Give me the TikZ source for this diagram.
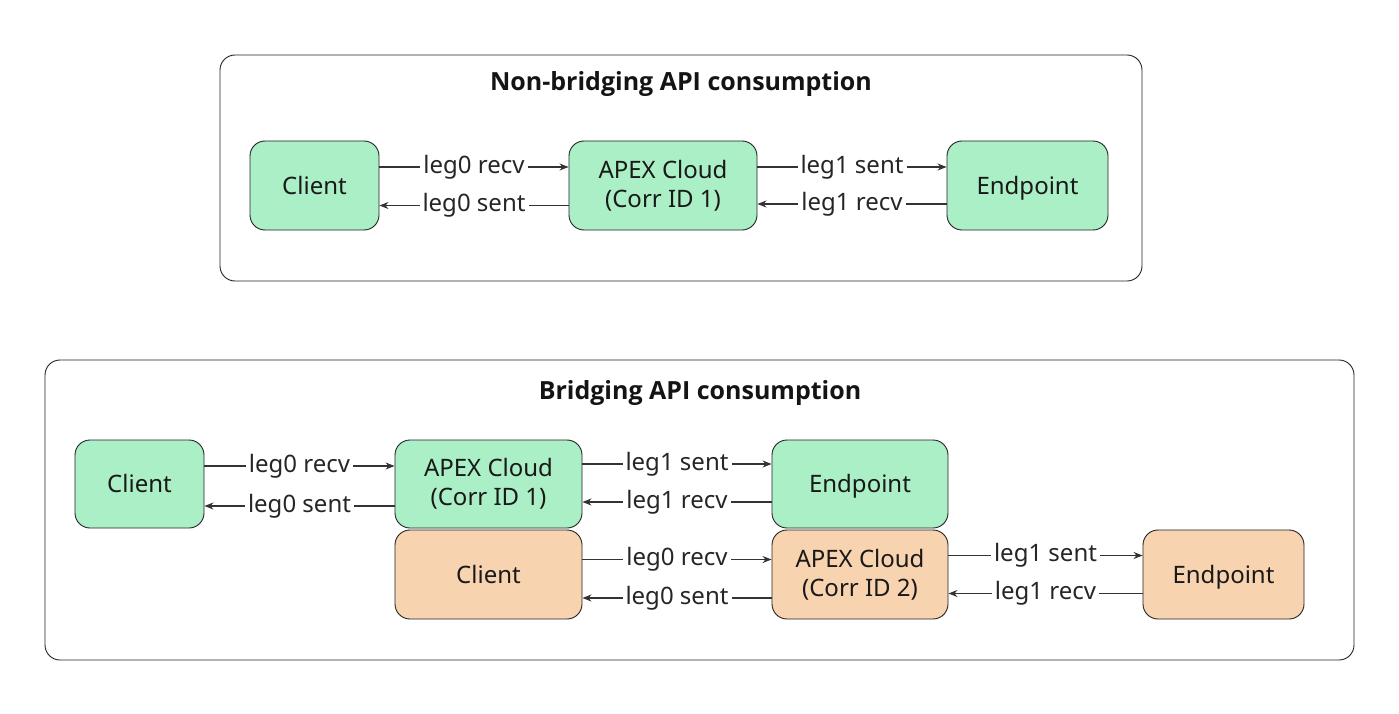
\documentclass[tikz,border=0pt]{standalone}
\usepackage{fontspec}
\setmainfont{Noto Sans}
\newfontfamily\ttlfont{Open Sans}
\usetikzlibrary{arrows.meta}
\definecolor{gfill}{HTML}{ABEFC6}
\definecolor{ofill}{HTML}{F8D3AF}
\definecolor{lncol}{HTML}{333333}
\definecolor{bdcol}{HTML}{222222}
\tikzset{
  frame/.style={draw=bdcol, line width=0.9pt, rounded corners=15pt, fill=white},
  box/.style={draw=bdcol, line width=0.9pt, rounded corners=15pt, align=center, font=\fontsize{24}{29}\selectfont, text=black!90, inner sep=0pt},
  one/.style={text height=20pt, text depth=3pt},
  gbox/.style={box, fill=gfill},
  obox/.style={box, fill=ofill},
  ttl/.style={font=\ttlfont\fontsize{25}{29}\selectfont\bfseries, text=black!92},
  conn/.style={draw=lncol, line width=1.1pt, -{Stealth[length=9pt,width=7pt]}},
  lbl/.style={fill=white, font=\fontsize{24}{28}\selectfont, text=black!85, inner xsep=3pt, inner ysep=1pt}
}
\begin{document}
\begin{tikzpicture}[x=1pt,y=-1pt]
\useasboundingbox (0,0) rectangle (1399,714);
% top frame
\node[frame, minimum width=922pt, minimum height=226pt] (f1) at (681,168) {};
\node[ttl] (t1) at (681,84) {Non-bridging API consumption};
\node[gbox, one, minimum width=129pt, minimum height=89pt] (c1) at (314.5,185.5) {Client};
\node[gbox, minimum width=188pt, minimum height=89pt] (a1) at (663,185.5) {APEX Cloud\\(Corr ID 1)};
\node[gbox, one, minimum width=161pt, minimum height=89pt] (e1) at (1027.5,185.5) {Endpoint};
\draw[conn] ([yshift=18.5pt]c1.east) -- node[lbl]{leg0 recv} ([yshift=18.5pt]a1.west);
\draw[conn] ([yshift=-20pt]a1.west) -- node[lbl]{leg0 sent} ([yshift=-20pt]c1.east);
\draw[conn] ([yshift=18.5pt]a1.east) -- node[lbl]{leg1 sent} ([yshift=18.5pt]e1.west);
\draw[conn] ([yshift=-18.5pt]e1.west) -- node[lbl]{leg1 recv} ([yshift=-18.5pt]a1.east);
% bottom frame
\node[frame, minimum width=1309pt, minimum height=300pt] (f2) at (699.5,510) {};
\node[ttl] (t2) at (700,393) {Bridging API consumption};
\node[gbox, one, minimum width=129pt, minimum height=88pt] (c2) at (139.5,484) {Client};
\node[gbox, minimum width=187pt, minimum height=88pt] (a2) at (488.5,484) {APEX Cloud\\(Corr ID 1)};
\node[gbox, one, minimum width=176pt, minimum height=88pt] (e2) at (860,484) {Endpoint};
\node[obox, one, minimum width=187pt, minimum height=89pt] (c3) at (488.5,574.5) {Client};
\node[obox, minimum width=176pt, minimum height=89pt] (a3) at (860,574.5) {APEX Cloud\\(Corr ID 2)};
\node[obox, one, minimum width=161pt, minimum height=89pt] (e3) at (1223.5,574.5) {Endpoint};
\draw[conn] ([yshift=18pt]c2.east) -- node[lbl]{leg0 recv} ([yshift=18pt]a2.west);
\draw[conn] ([yshift=-22pt]a2.west) -- node[lbl]{leg0 sent} ([yshift=-22pt]c2.east);
\draw[conn] ([yshift=20pt]a2.east) -- node[lbl]{leg1 sent} ([yshift=20pt]e2.west);
\draw[conn] ([yshift=-18pt]e2.west) -- node[lbl]{leg1 recv} ([yshift=-18pt]a2.east);
\draw[conn] ([yshift=15pt]c3.east) -- node[lbl]{leg0 recv} ([yshift=15pt]a3.west);
\draw[conn] ([yshift=-23.5pt]a3.west) -- node[lbl]{leg0 sent} ([yshift=-23.5pt]c3.east);
\draw[conn] ([yshift=19pt]a3.east) -- node[lbl]{leg1 sent} ([yshift=19pt]e3.west);
\draw[conn] ([yshift=-19pt]e3.west) -- node[lbl]{leg1 recv} ([yshift=-19pt]a3.east);
\end{tikzpicture}
\end{document}
